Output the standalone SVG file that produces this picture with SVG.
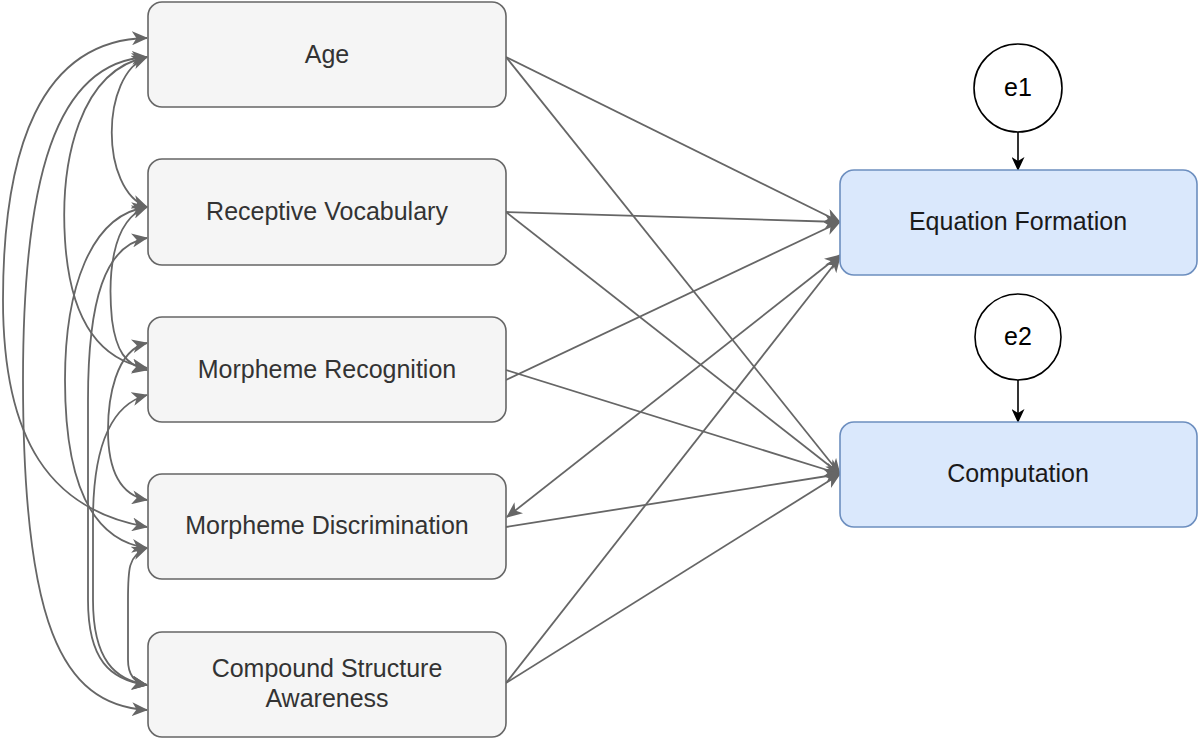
<svg xmlns="http://www.w3.org/2000/svg" width="1200" height="740" viewBox="0 0 1200 740">
<style>
.lbox{fill:#f5f5f5;stroke:#666666;stroke-width:1.6}
.rbox{fill:#dae8fc;stroke:#6c8ebf;stroke-width:1.6}
.circ{fill:#ffffff;stroke:#000000;stroke-width:1.6}
.lt{font-family:"Liberation Sans",Arial,sans-serif;font-size:25px;fill:#333333;text-anchor:middle}
.rt{font-family:"Liberation Sans",Arial,sans-serif;font-size:25px;fill:#1a1a1a;text-anchor:middle}
.cv{fill:none;stroke:#666666;stroke-width:1.8;marker-start:url(#ah);marker-end:url(#ah)}
.ed{fill:none;stroke:#666666;stroke-width:1.8;marker-end:url(#ah)}
.er{fill:none;stroke:#000000;stroke-width:1.6;marker-end:url(#bh)}
</style>
<defs>
<marker id="ah" viewBox="0 0 16 14" refX="15" refY="7" markerWidth="16" markerHeight="14" markerUnits="userSpaceOnUse" orient="auto-start-reverse">
<path d="M0,0 L16,7 L0,14 L4.5,7 Z" fill="#666666"/>
</marker>
<marker id="bh" viewBox="0 0 14 13" refX="13" refY="6.5" markerWidth="14" markerHeight="13" markerUnits="userSpaceOnUse" orient="auto">
<path d="M0,0 L14,6.5 L0,13 L4,6.5 Z" fill="#000000"/>
</marker>
</defs>
<g id="connectors">
<path class="cv" d="M147,57 C100,75 100,190 147,207"/>
<path class="cv" d="M147,57 C80,70 60,160 65,240 C70,320 100,360 147,368"/>
<path class="cv" d="M147,38 C40,40 3,150 3,300 C3,440 50,510 147,527"/>
<path class="cv" d="M147,57 C55,62 23,180 23,380 C23,620 60,705 147,710"/>
<path class="cv" d="M147,207 C90,215 65,290 65,380 C65,480 90,540 147,548"/>
<path class="cv" d="M147,238 C105,245 88,300 88,400 L88,600 C88,660 110,680 147,685"/>
<path class="cv" d="M147,207 C110,220 108,280 112,320 C116,350 125,365 147,370"/>
<path class="cv" d="M147,343 C115,350 108,400 108,430 C108,470 120,495 147,500"/>
<path class="cv" d="M147,395 C110,405 93,450 93,520 L93,600 C93,660 115,680 147,685"/>
<path class="cv" d="M147,548 C128,555 128,570 128,600 L128,660 C128,675 135,683 147,685"/>
<path class="ed" d="M506,57 L840,222"/>
<path class="ed" d="M506,57 L840,474"/>
<path class="ed" d="M506,212 L840,222"/>
<path class="ed" d="M506,212 L840,474"/>
<path class="ed" d="M506,380 L840,222"/>
<path class="ed" d="M506,370 L840,474"/>
<path class="cv" d="M507,517 L840,255"/>
<path class="ed" d="M506,527 L840,474"/>
<path class="ed" d="M506,683 L840,257"/>
<path class="ed" d="M506,683 L840,474"/>
<path class="er" d="M1018,132 L1018,170"/>
<path class="er" d="M1018,380 L1018,422"/>
</g>
<g id="node-age"><rect class="lbox" x="148" y="2" width="358" height="105" rx="14"/><text class="lt" x="327" y="63">Age</text></g>
<g id="node-rv"><rect class="lbox" x="148" y="159" width="358" height="106" rx="14"/><text class="lt" x="327" y="220">Receptive Vocabulary</text></g>
<g id="node-mr"><rect class="lbox" x="148" y="317" width="358" height="105" rx="14"/><text class="lt" x="327" y="378">Morpheme Recognition</text></g>
<g id="node-md"><rect class="lbox" x="148" y="474" width="358" height="105" rx="14"/><text class="lt" x="327" y="534">Morpheme Discrimination</text></g>
<g id="node-csa"><rect class="lbox" x="148" y="632" width="358" height="105" rx="14"/><text class="lt" x="327" y="677">Compound Structure</text><text class="lt" x="327" y="707">Awareness</text></g>
<g id="node-ef"><rect class="rbox" x="840" y="170" width="357" height="105" rx="14"/><text class="rt" x="1018" y="230">Equation Formation</text></g>
<g id="node-comp"><rect class="rbox" x="840" y="422" width="357" height="105" rx="14"/><text class="rt" x="1018" y="482">Computation</text></g>
<g id="node-e1"><circle class="circ" cx="1018" cy="88" r="44"/><text class="rt" x="1018" y="96" style="fill:#000000">e1</text></g>
<g id="node-e2"><circle class="circ" cx="1018" cy="337" r="43"/><text class="rt" x="1018" y="345" style="fill:#000000">e2</text></g>
</svg>
